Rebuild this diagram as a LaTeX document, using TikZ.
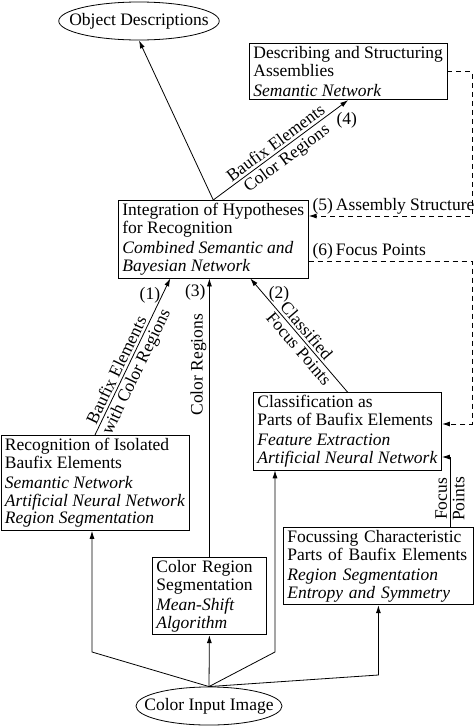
\documentclass[tikz,border=0pt]{standalone}
\usepackage{fontspec}
\setmainfont{Liberation Serif}
\usetikzlibrary{arrows.meta,shapes.geometric,calc}

\begin{document}
\begin{tikzpicture}[x=1pt, y=-1pt,
		module/.style = {draw, line width=0.8pt, anchor=north west, align=left, inner xsep=4pt, inner ysep=3pt, font=\fontsize{17.5}{17.5}\selectfont},
		goal/.style = {draw, line width=0.8pt, ellipse, inner xsep=-13pt, inner ysep=5.5pt, font=\fontsize{17.5}{17.5}\selectfont},
		flow/.style = {line width=0.8pt, -{Latex[length=8pt,width=5pt]}},
		feedback/.style = {flow, line width=1pt, dash pattern=on 5pt off 4pt},
		tag/.style = {font=\fontsize{17.5}{17.5}\selectfont, inner sep=1.5pt},
		side/.style = {tag, sloped, inner sep=2.5pt}]

			\useasboundingbox (0,0) rectangle (474,726);

			\node[goal] (objdesc) at (139,21) {Object Descriptions};
			\node[goal] (cin) at (209,706) {Color Input Image};

			\node[module] (assem) at (249,43) {Describing and Structuring\\Assemblies\\[3pt]\textit{Semantic Network}};
			\node[module] (integ) at (118,200) {Integration of Hypotheses\\for Recognition\\[3pt]\textit{Combined Semantic and}\\\textit{Bayesian Network}};
			\node[module] (classif) at (253,392) {Classification as\\Parts of Baufix Elements\\[3pt]\textit{Feature Extraction}\\\textit{Artificial Neural Network}};
			\node[module] (rec) at (0.5,435) {Recognition of Isolated\\Baufix Elements\\[3pt]\textit{Semantic Network}\\\textit{Artificial Neural Network}\\\textit{Region Segmentation}};
			\node[module, text width=106pt] (crs) at (152,557) {Color Region\\Segmentation\\[3pt]\textit{Mean-Shift}\\\textit{Algorithm}};
			\node[module, text width=182pt] (focus) at (283,527) {Focussing Characteristic\\Parts of Baufix Elements\\[3pt]\textit{Region Segmentation}\\\textit{Entropy and Symmetry}};

			\coordinate (asm5) at (472,216);
			\coordinate (foc6) at (472,261);
			\coordinate (cls6) at (472,424);
			\coordinate (fp) at (450,457);
			\coordinate (kneeR) at (92,652);
			\coordinate (kneeC) at (275,652);
			\coordinate (kneeF) at (377,675);

			\draw[flow] (integ.north) -- (objdesc.south);
			\draw[flow] (integ.north) -- node[side, above] {Baufix Elements} node[side, below] {Color Regions} node[tag, pos=0.9, anchor=north west] {(4)} (assem.south);

			\draw[feedback] (assem.east) -| (asm5) -- (integ.east |- asm5) node[tag, anchor=south west, xshift=2pt] {(5)\,Assembly Structure};
			\draw[feedback] (integ.east |- foc6) node[tag, anchor=south west, xshift=2pt] {(6)\,Focus Points} -- (foc6) -- (cls6) -- (classif.east |- cls6);

			\draw[flow] (rec.north) -- node[side, pos=0.39, above] {Baufix Elements} node[side, pos=0.43, below] {with Color Regions} node[tag, pos=0.89, left] {(1)} ($(integ.south)+(-43,0)$);
			\draw[flow] (crs.north) -- node[side, pos=0.69, above] {Color Regions} node[tag, pos=0.95, left, xshift=-2pt] {(3)} (crs.north |- integ.south);
			\draw[flow] (classif.north) -- node[side, pos=0.49, above] {Classified} node[side, pos=0.43, below] {Focus Points} node[tag, pos=0.86, right, xshift=3pt] {(2)} ($(integ.south)+(37,0)$);

			\draw[flow] (fp |- focus.north) -- node[side, pos=0.4, above] {Focus} node[side, pos=0.4, below] {Points} (fp) -- (fp -| classif.east);

			\draw[flow] (cin.north) -- (kneeR) -- (kneeR |- rec.south);
			\draw[flow] (cin.north) -- (crs.south);
			\draw[flow] (cin.north) -- (kneeC) -- (kneeC |- classif.south);
			\draw[flow] (cin.north) -- (focus.south |- kneeF) -- (focus.south);
		\end{tikzpicture}
\end{document}
